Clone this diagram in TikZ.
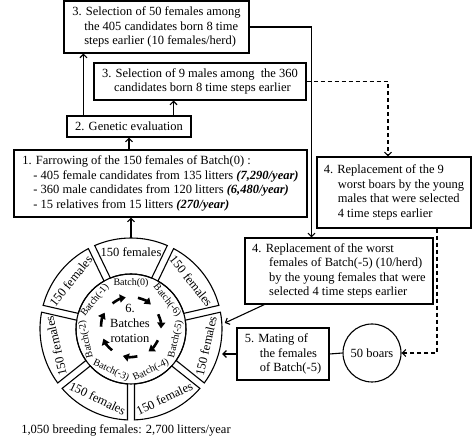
\documentclass[tikz,border=0pt]{standalone}
\usepackage{fontspec}
\setmainfont{Liberation Serif}
\usetikzlibrary{arrows.meta,calc}
\begin{document}
\begin{tikzpicture}[x=1pt,y=1pt,
  box/.style={draw, line width=1.1pt, rectangle, align=left, inner sep=0pt, font=\fontsize{12.5}{14.5}\selectfont},
  conn/.style={line width=1.1pt, -{Straight Barb[length=3.5pt,width=7pt]}},
  dconn/.style={conn, dash pattern=on 4pt off 3pt},
  sector/.style={draw, line width=1.1pt},
  seclabel/.style={font=\fontsize{12.5}{14}\selectfont, inner sep=0pt},
  batchlabel/.style={font=\fontsize{10}{12}\selectfont, inner sep=0pt},
  rotarrow/.style={line width=2.6pt, -{Triangle[length=6pt,width=8pt]}},
  plain/.style={font=\fontsize{12.5}{15}\selectfont, inner sep=0pt}]
\useasboundingbox (0,0) rectangle (474,439);

% boxes
\node[box, minimum width=185, minimum height=52] (b3f) at (156.5,412)
  {3. Selection of 50 females among\\\hspace*{12pt}the 405 candidates born 8 time\\\hspace*{12pt}steps earlier (10 females/herd)};
\node[box, minimum width=212, minimum height=37] (b3m) at (200,357.5)
  {3. Selection of 9 males among\ \ the 360\\\hspace*{12pt}candidates born 8 time steps earlier};
\node[box, minimum width=124, minimum height=21] (b2) at (129,312.5) {2. Genetic evaluation};
\node[box, minimum width=293, minimum height=67] (b1) at (160.5,255.5)
  {1. Farrowing of the 150 females of Batch(0) :\\
   \hspace*{11pt}- 405 female candidates from 135 litters \textbf{\textit{(7,290/year)}}\\
   \hspace*{11pt}- 360 male candidates from 120 litters \textbf{\textit{(6,480/year)}}\\
   \hspace*{11pt}- 15 relatives from 15 litters \textbf{\textit{(270/year)}}};
\node[box, minimum width=154, minimum height=71] (b4m) at (394,246.5)
  {4. Replacement of the 9\\\hspace*{14pt}worst boars by the young\\\hspace*{14pt}males that were selected\\\hspace*{14pt}4 time steps earlier};
\node[box, minimum width=188, minimum height=66] (b4f) at (339,168)
  {4. Replacement of the worst\\\hspace*{17pt}females of Batch(-5) (10/herd)\\\hspace*{17pt}by the young females that were\\\hspace*{17pt}selected 4 time steps earlier};
\node[box, minimum width=92, minimum height=52] (b5) at (283,85)
  {5. Mating of\\\hspace*{15pt}the females\\\hspace*{15pt}of Batch(-5)};
\node[draw, circle, line width=1.1pt, minimum size=58, inner sep=0pt, plain] (boars) at (372,86) {50 boars};

% wheel
\coordinate (wc) at (131,110);
\coordinate (ac) at (131,112);
\node[circle, minimum size=182, inner sep=0pt] (wheel) at (wc) {};
\draw[line width=1.1pt] (wc) circle[radius=55];
\foreach \k/\lab/\rot in {0/Batch(0)/0, 1/Batch(-6)/-51.43, 2/Batch(-5)/77.14, 3/Batch(-4)/25.71, 4/Batch(-3)/-25.71, 5/Batch(-2)/102.86, 6/Batch(-1)/51.43} {
  \pgfmathsetmacro\c{90-\k*51.4286}
  \draw[sector] ($(wc)+(\c-25.714+3.65:55)$) -- ($(wc)+(\c-25.714+2.2:91)$)
     arc[start angle=\c-25.714+2.2, end angle=\c+25.714-2.2, radius=91]
     -- ($(wc)+(\c+25.714-3.65:55)$)
     arc[start angle=\c+25.714-3.65, end angle=\c-25.714+3.65, radius=55] -- cycle;
  \node[seclabel, rotate=\rot] (s\k) at ($(wc)+(\c:77)$) {150 females};
  \node[batchlabel, rotate=\rot] (bl\k) at ($(wc)+(\c:46)$) {\lab};
}
\foreach \k in {0,...,6} {
  \pgfmathsetmacro\a{114-\k*51.4286}
  \draw[rotarrow] ($(ac)+(\a+14:30)$) arc[start angle=\a+14, end angle=\a-14, radius=30];
}
\node[plain, align=center] (rot) at (130,116) {6.\\Batches\\rotation};
\node[plain] (foot) at (126,9) {1,050 breeding females: 2,700 litters/year};

% connectors
\draw[conn] ([xshift=17pt]b2.north west) -- ([xshift=17pt]b2.north west |- b3f.south);
\draw[conn] ([xshift=-18pt]b2.north east) -- ([xshift=-18pt]b2.north east |- b3m.south);
\draw[conn] (b2.south |- b1.north) -- (b2.south);
\draw[conn] (wheel.north) -- (wheel.north |- b1.south);
\draw[conn] (b3f.east) -| ([xshift=67pt]b4f.north west);
\draw[dconn] (b3m.east) -| ([xshift=-6pt]b4m.north);
\draw[dconn] ([xshift=43pt]b4m.south) |- (boars.east);
\draw[line width=1.1pt] (b5.east) -- (boars.west);
\draw[conn, shorten >=3pt] ([xshift=20pt]b4f.south west) -- (wheel.3);
\draw[conn] (b5.west) -- (b5.west -| wheel.east);
\end{tikzpicture}
\end{document}
